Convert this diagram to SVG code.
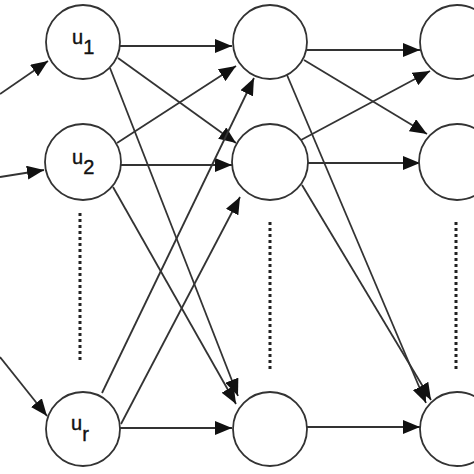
<svg xmlns="http://www.w3.org/2000/svg" width="474" height="474" viewBox="0 0 474 474">
<style>
.n{fill:#fff;stroke:#333;stroke-width:1.8}
.e{stroke:#333;stroke-width:1.8;fill:none;marker-end:url(#ah)}
.d{stroke:#222;stroke-width:3;stroke-dasharray:3 3;fill:none}
.t{font-family:"Liberation Sans",Arial,sans-serif;font-size:20px;fill:#111;stroke:#111;stroke-width:0.4}
</style>
<defs>
<marker id="ah" markerUnits="userSpaceOnUse" markerWidth="18" markerHeight="14" refX="17" refY="7" orient="auto">
<path d="M0,0 L17,7 L0,14 Z" fill="#111"/>
</marker>
</defs>
<g id="connectors">
<line class="e" x1="0" y1="94" x2="48" y2="61"/>
<line class="e" x1="0" y1="177" x2="44" y2="170"/>
<line class="e" x1="0" y1="357" x2="47" y2="416"/>
<line class="e" x1="120" y1="46" x2="232" y2="46"/>
<line class="e" x1="118" y1="58" x2="236" y2="143"/>
<line class="e" x1="110" y1="68" x2="238" y2="396"/>
<line class="e" x1="117" y1="143" x2="236" y2="66"/>
<line class="e" x1="120" y1="165" x2="232" y2="165"/>
<line class="e" x1="113" y1="187" x2="236" y2="404"/>
<line class="e" x1="102" y1="393" x2="254" y2="78"/>
<line class="e" x1="121" y1="424" x2="240" y2="197"/>
<line class="e" x1="120" y1="428" x2="232" y2="428"/>
<line class="e" x1="307" y1="50" x2="420" y2="50"/>
<line class="e" x1="304" y1="60" x2="427" y2="134"/>
<line class="e" x1="287" y1="75" x2="426" y2="403"/>
<line class="e" x1="301" y1="140" x2="430" y2="71"/>
<line class="e" x1="307" y1="163" x2="420" y2="163"/>
<line class="e" x1="302" y1="185" x2="431" y2="400"/>
<line class="e" x1="307" y1="427" x2="420" y2="427"/>
</g>
<g id="dots">
<line class="d" x1="80" y1="213" x2="80" y2="362"/>
<line class="d" x1="270" y1="222" x2="270" y2="372"/>
<line class="d" x1="456" y1="222" x2="456" y2="372"/>
</g>
<g id="u1"><circle class="n" cx="83" cy="42" r="37"/><text class="t" x="72" y="44">u<tspan dy="10">1</tspan></text></g>
<g id="u2"><circle class="n" cx="83" cy="162" r="38"/><text class="t" x="72" y="164">u<tspan dy="10">2</tspan></text></g>
<g id="ur"><circle class="n" cx="83" cy="429" r="37"/><text class="t" x="71" y="430">u<tspan dy="11">r</tspan></text></g>
<g id="a1"><circle class="n" cx="270" cy="42" r="37"/></g>
<g id="a2"><circle class="n" cx="270" cy="162" r="38"/></g>
<g id="a3"><circle class="n" cx="270" cy="429" r="37"/></g>
<g id="b1"><circle class="n" cx="457" cy="42" r="37"/></g>
<g id="b2"><circle class="n" cx="457" cy="162" r="38"/></g>
<g id="b3"><circle class="n" cx="457" cy="429" r="37"/></g>
</svg>
